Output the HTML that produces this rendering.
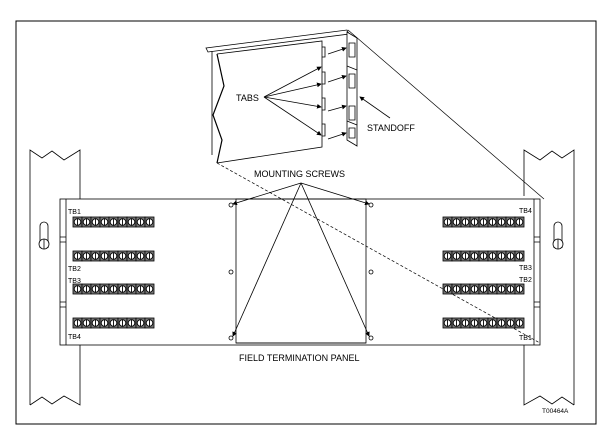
<!DOCTYPE html>
<html><head><style>
html,body{margin:0;padding:0;background:#fff;}
svg{display:block;font-family:"Liberation Sans",Arial,sans-serif;}
</style></head><body>
<svg width="606" height="437" viewBox="0 0 606 437" xmlns="http://www.w3.org/2000/svg">
<defs>
<g id="cell">
<rect x="0" y="-5" width="9" height="10" fill="#777" stroke="#000" stroke-width="0.8"/>
<circle cx="4.5" cy="0" r="3.3" fill="#fff" stroke="#000" stroke-width="0.9"/>
<line x1="4.5" y1="-3" x2="4.5" y2="3" stroke="#000" stroke-width="0.9"/>
</g>
<g id="blk">
<use href="#cell" x="0"/><use href="#cell" x="9"/><use href="#cell" x="18"/><use href="#cell" x="27"/><use href="#cell" x="36"/><use href="#cell" x="45"/><use href="#cell" x="54"/><use href="#cell" x="63"/><use href="#cell" x="72"/>
</g>
<marker id="ah" markerWidth="6" markerHeight="6" refX="5" refY="3" orient="auto"><path d="M0,0 L6,3 L0,6 z" fill="#000"/></marker>
</defs>
<rect x="16" y="21" width="580" height="403" fill="none" stroke="#000" stroke-width="1"/>
<g fill="none" stroke="#000" stroke-width="0.8">
<path d="M30,405 V150 L42,158 L52,151 L64,160 L80,150 V199"/>
<path d="M30,405 L42,397 L52,404 L64,396 L80,405 V345"/>
<path d="M40,248 V226 a4,4 0 0 1 8,0 V248"/>
<circle cx="44" cy="244" r="5" fill="#fff"/>
<line x1="44" y1="239" x2="44" y2="249"/>
<path d="M574,405 V150 L562,158 L552,151 L540,160 L524,150 V196"/>
<path d="M574,405 L562,397 L552,404 L540,396 L524,405 V345"/>
<path d="M554,248 V226 a4,4 0 0 1 8,0 V248"/>
<circle cx="558" cy="244" r="5" fill="#fff"/>
<line x1="558" y1="239" x2="558" y2="249"/>
<rect x="60" y="199" width="480" height="146" fill="#fff"/>
<line x1="66" y1="199" x2="66" y2="345"/>
<line x1="534" y1="199" x2="534" y2="345"/>
<path d="M60,237 H66 M60,242 H66 M60,302 H66 M60,307 H66 M534,237 H540 M534,242 H540 M534,302 H540 M534,307 H540"/>
<rect x="236" y="199" width="130" height="144"/>
<line x1="236" y1="343" x2="366" y2="343"/>
<circle cx="231" cy="205" r="2"/><circle cx="371" cy="205" r="2"/>
<circle cx="231" cy="272" r="2"/><circle cx="371" cy="272" r="2"/>
<circle cx="231" cy="338" r="2"/><circle cx="371" cy="338" r="2"/>
<path d="M206,48 L347,30 L349,34 L208,52 Z" fill="#fff"/>
<path d="M212,51 V155 M217,54 L322,41 V147 L217,163"/>
<path d="M217,54 L224,86 L213,115 L222,140 L217,163" stroke-width="1.2"/>
<path d="M322,47 h3 v10 h-3 M322,72 h3 v12 h-3 M322,98 h3 v12 h-3 M322,124 h3 v12 h-3"/>
<path d="M347,32 L357,38 V146 L347,140 Z" fill="#fff"/>
<path d="M349,43 h6 v14 h-6z M349,74 h6 v14 h-6z M349,106 h6 v14 h-6z M349,128 h6 v10 h-6z"/>
<path d="M347,66 L357,70 M347,121 L357,125"/>
<line x1="348" y1="30" x2="544" y2="199" stroke-width="0.7"/>
<line x1="217" y1="163" x2="540" y2="343" stroke-dasharray="3,2" stroke-width="0.7"/>
</g>
<g stroke="#000" stroke-width="0.8" marker-end="url(#ah)">
<line x1="264" y1="97" x2="321" y2="67"/>
<line x1="264" y1="97" x2="321" y2="84"/>
<line x1="264" y1="97" x2="321" y2="107"/>
<line x1="264" y1="97" x2="321" y2="135"/>
<line x1="328" y1="54" x2="346" y2="48"/>
<line x1="328" y1="82" x2="346" y2="76"/>
<line x1="328" y1="111" x2="346" y2="106"/>
<line x1="328" y1="139" x2="346" y2="133"/>
<line x1="390" y1="118" x2="360" y2="97"/>
<line x1="301" y1="183" x2="233" y2="204"/>
<line x1="301" y1="183" x2="369" y2="204"/>
<line x1="301" y1="183" x2="233" y2="336"/>
<line x1="301" y1="183" x2="369" y2="336"/>
</g>
<use href="#blk" x="73" y="222"/><use href="#blk" x="73" y="256"/><use href="#blk" x="73" y="289"/><use href="#blk" x="73" y="323"/>
<use href="#blk" x="443" y="222"/><use href="#blk" x="443" y="256"/><use href="#blk" x="443" y="289"/><use href="#blk" x="443" y="323"/>
<g font-size="7" fill="#000">
<text x="68" y="214">TB1</text><text x="68" y="271">TB2</text><text x="68" y="283">TB3</text><text x="68" y="339">TB4</text>
<text x="519" y="213">TB4</text><text x="519" y="270">TB3</text><text x="519" y="282">TB2</text><text x="519" y="340">TB1</text>
<text x="542" y="413" font-size="6.5">T00464A</text>
</g>
<g font-size="9" fill="#000">
<text x="236" y="101">TABS</text>
<text x="367" y="131">STANDOFF</text>
<text x="254" y="177">MOUNTING SCREWS</text>
<text x="239" y="361">FIELD TERMINATION PANEL</text>
</g>
</svg>
</body></html>
